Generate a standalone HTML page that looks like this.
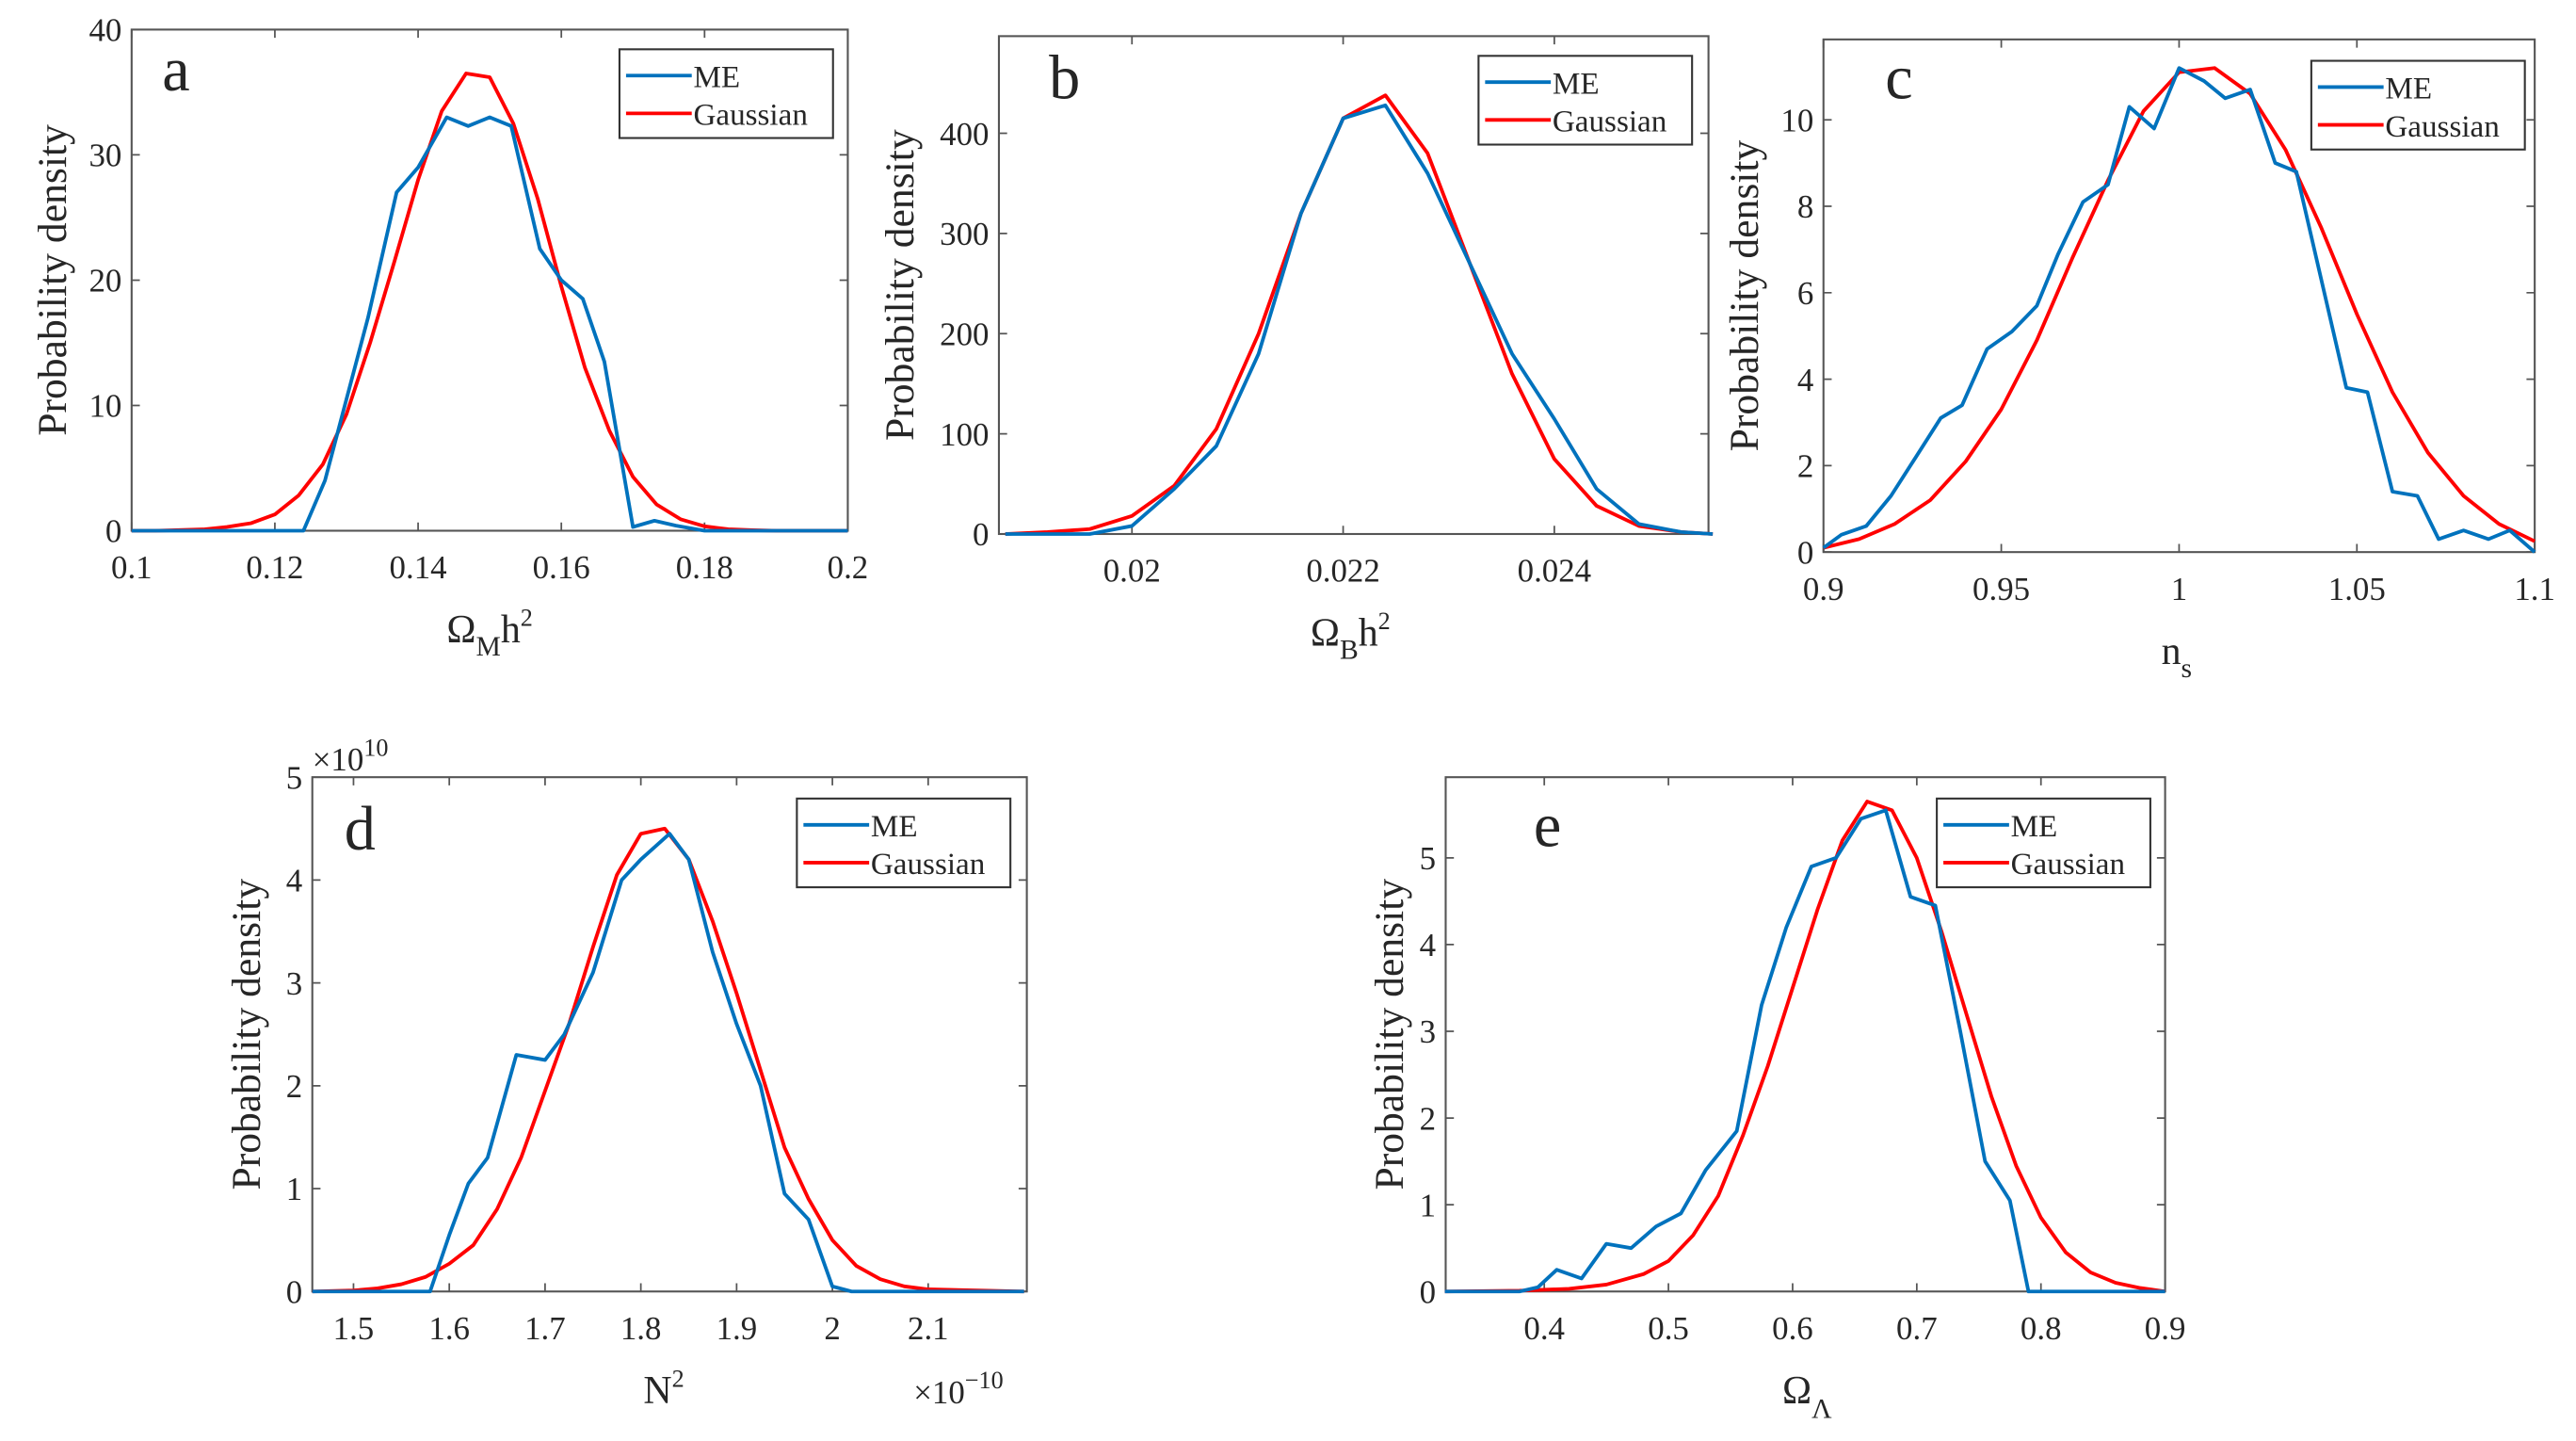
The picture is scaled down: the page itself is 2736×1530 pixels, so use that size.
<!DOCTYPE html>
<html><head><meta charset="utf-8"><style>
html,body{margin:0;padding:0;background:#fff;}
svg{display:block;}
text{font-family:"Liberation Serif",serif;fill:#262626;}
</style></head><body>
<svg id="fig" width="2736" height="1530" viewBox="0 0 1568 877" xmlns="http://www.w3.org/2000/svg"></svg>
<script>
// Panel a
const aMeX=[0.1,0.12,0.124,0.127,0.130,0.133,0.137,0.140,0.144,0.147,0.150,0.153,0.157,0.160,0.163,0.166,0.170,0.173,0.176,0.18,0.2];
const aMeY=[0,0,0,4,10.5,17,27,29,33,32.3,33,32.3,22.5,20,18.5,13.5,0.3,0.8,0.4,0,0];
const aGX=[0.1,0.1033,0.1067,0.110,0.1133,0.1167,0.120,0.1233,0.1267,0.130,0.1333,0.1367,0.140,0.1433,0.1467,0.150,0.1533,0.1567,0.160,0.1633,0.1667,0.170,0.1733,0.1767,0.180,0.1833,0.1867,0.190,0.2];
const aGY=[0,0,0.05,0.1,0.3,0.6,1.3,2.8,5.3,9.3,15,21.5,28,33.5,36.5,36.2,32.5,26.5,19.5,13,8,4.3,2.1,0.9,0.35,0.12,0.04,0,0];
const aXT=[0.1,0.12,0.14,0.16,0.18,0.2];const aXL=["0.1","0.12","0.14","0.16","0.18","0.2"];
const aYT=[0,10,20,30,40];const aYL=["0","10","20","30","40"];
// Panel b
const bMeX=[0.0188,0.0196,0.0200,0.0204,0.0208,0.0212,0.0216,0.0220,0.0224,0.0228,0.0232,0.0236,0.0240,0.0244,0.0248,0.0252,0.0255];
const bMeY=[0,0,8,45,88,180,320,415,428,360,270,180,115,45,10,2,0];
const bGX=[0.0188,0.0192,0.0196,0.0200,0.0204,0.0208,0.0212,0.0216,0.0220,0.0224,0.0228,0.0232,0.0236,0.0240,0.0244,0.0248,0.0252,0.0255];
const bGY=[0,2,5,18,48,105,200,320,415,438,380,270,160,75,28,8,2,0];
const bXT=[0.02,0.022,0.024];const bXL=["0.02","0.022","0.024"];
const bYT=[0,100,200,300,400];const bYL=["0","100","200","300","400"];
// Panel c
const cMeX=[0.9,0.905,0.912,0.919,0.926,0.933,0.939,0.946,0.953,0.960,0.966,0.973,0.980,0.986,0.993,1.000,1.007,1.013,1.020,1.027,1.033,1.040,1.047,1.053,1.060,1.067,1.073,1.080,1.087,1.093,1.1];
const cMeY=[0.1,0.4,0.6,1.3,2.2,3.1,3.4,4.7,5.1,5.7,6.9,8.1,8.5,10.3,9.8,11.2,10.9,10.5,10.7,9.0,8.8,6.3,3.8,3.7,1.4,1.3,0.3,0.5,0.3,0.5,0];
const cGX=[0.9,0.91,0.92,0.93,0.94,0.95,0.96,0.97,0.98,0.99,1.0,1.01,1.02,1.03,1.04,1.05,1.06,1.07,1.08,1.09,1.1];
const cGY=[0.1,0.3,0.65,1.2,2.1,3.3,4.9,6.8,8.6,10.2,11.1,11.2,10.6,9.3,7.5,5.5,3.7,2.3,1.3,0.65,0.25];
const cXT=[0.9,0.95,1,1.05,1.1];const cXL=["0.9","0.95","1","1.05","1.1"];
const cYT=[0,2,4,6,8,10];const cYL=["0","2","4","6","8","10"];
// Panel d
const dMeX=[1.457,1.58,1.60,1.62,1.64,1.67,1.70,1.72,1.75,1.78,1.80,1.83,1.85,1.875,1.90,1.925,1.95,1.975,2.0,2.02,2.2];
const dMeY=[0,0,0.55,1.05,1.3,2.3,2.25,2.5,3.1,4.0,4.2,4.45,4.2,3.3,2.6,2.0,0.95,0.7,0.05,0,0];
const dGX=[1.457,1.5,1.525,1.55,1.575,1.60,1.625,1.65,1.675,1.70,1.725,1.75,1.775,1.80,1.825,1.85,1.875,1.90,1.925,1.95,1.975,2.0,2.025,2.05,2.075,2.1,2.2];
const dGY=[0,0.01,0.03,0.07,0.14,0.27,0.45,0.8,1.3,1.95,2.6,3.35,4.05,4.45,4.5,4.2,3.6,2.9,2.15,1.4,0.9,0.5,0.25,0.12,0.05,0.02,0];
const dXT=[1.5,1.6,1.7,1.8,1.9,2,2.1];const dXL=["1.5","1.6","1.7","1.8","1.9","2","2.1"];
const dYT=[0,1,2,3,4,5];const dYL=["0","1","2","3","4","5"];
// Panel e
const eMeX=[0.32,0.38,0.395,0.41,0.43,0.45,0.47,0.49,0.51,0.53,0.555,0.575,0.595,0.615,0.635,0.655,0.675,0.695,0.715,0.735,0.755,0.775,0.79,0.9];
const eMeY=[0,0,0.05,0.25,0.15,0.55,0.5,0.75,0.9,1.4,1.85,3.3,4.2,4.9,5.0,5.45,5.55,4.55,4.45,3.0,1.5,1.05,0,0];
const eGX=[0.32,0.38,0.42,0.45,0.48,0.50,0.52,0.54,0.56,0.58,0.60,0.62,0.64,0.66,0.68,0.70,0.72,0.74,0.76,0.78,0.80,0.82,0.84,0.86,0.88,0.9];
const eGY=[0,0.01,0.03,0.08,0.2,0.35,0.65,1.1,1.8,2.6,3.5,4.4,5.2,5.65,5.55,5.0,4.15,3.2,2.25,1.45,0.85,0.45,0.22,0.1,0.04,0];
const eXT=[0.4,0.5,0.6,0.7,0.8,0.9];const eXL=["0.4","0.5","0.6","0.7","0.8","0.9"];
const eYT=[0,1,2,3,4,5];const eYL=["0","1","2","3","4","5"];

const NS="http://www.w3.org/2000/svg";
const svg=document.getElementById('fig');
function mk(tag,parent){const e=document.createElementNS(NS,tag);parent.appendChild(e);return e;}

function panel(cfg){
  const g=mk('g',svg);
  
  
  const sx=v=>cfg.L+(v-cfg.x0)/(cfg.x1-cfg.x0)*(cfg.R-cfg.L);
  const sy=v=>cfg.B-(v-cfg.y0)/(cfg.y1-cfg.y0)*(cfg.B-cfg.T);
  const frame=mk('rect',g);
  
  
  frame.setAttribute('x',cfg.L);frame.setAttribute('y',cfg.T);frame.setAttribute('width',cfg.R-cfg.L);frame.setAttribute('height',cfg.B-cfg.T);
  frame.setAttribute('fill','#fff');frame.setAttribute('stroke','#555');frame.setAttribute('stroke-width','1.2');
  cfg.xt.forEach((v,i)=>{
    const x=sx(v);
    const t1=mk('path',g);
    
    
    t1.setAttribute('d',`M${x},${cfg.B}v-5M${x},${cfg.T}v5`);t1.setAttribute('stroke','#555');
    const tx=mk('text',g);
    
    
    tx.setAttribute('x',x);tx.setAttribute('y',cfg.B+29);tx.setAttribute('text-anchor','middle');tx.setAttribute('font-size','20');
    tx.textContent=cfg.xl[i];
  });
  cfg.yt.forEach((v,i)=>{
    const y=sy(v);
    const t1=mk('path',g);
    
    
    t1.setAttribute('d',`M${cfg.L},${y}h5M${cfg.R},${y}h-5`);t1.setAttribute('stroke','#555');
    const tx=mk('text',g);
    
    
    tx.setAttribute('x',cfg.L-6);tx.setAttribute('y',y+7);tx.setAttribute('text-anchor','end');tx.setAttribute('font-size','20');
    tx.textContent=cfg.yl[i];
  });
  [[cfg.gx,cfg.gy,'#ff0000','gaussian-curve'],[cfg.mx,cfg.my,'#0072bd','me-curve']].forEach(s=>{
    const p=mk('polyline',g);
    
    
    p.setAttribute('points',s[0].map((v,i)=>sx(v).toFixed(1)+','+sy(s[1][i]).toFixed(1)).join(' '));
    p.setAttribute('fill','none');p.setAttribute('stroke',s[2]);p.setAttribute('stroke-width','2.2');p.setAttribute('stroke-linejoin','round');
  });
  const lg=mk('g',g);
  
  
  const lx=cfg.lx,ly=cfg.ly;
  const lr=mk('rect',lg);
  
  
  lr.setAttribute('x',lx);lr.setAttribute('y',ly);lr.setAttribute('width',130);lr.setAttribute('height',54);
  lr.setAttribute('fill','#fff');lr.setAttribute('stroke','#333');lr.setAttribute('stroke-width','1.2');
  [['ME','#0072bd',17,'legend-entry-me'],['Gaussian','#ff0000',40,'legend-entry-gaussian']].forEach(e=>{
    const ln=mk('line',lg);
    
    
    ln.setAttribute('x1',lx+4);ln.setAttribute('x2',lx+44);ln.setAttribute('y1',ly+e[2]-1);ln.setAttribute('y2',ly+e[2]-1);
    ln.setAttribute('stroke',e[1]);ln.setAttribute('stroke-width','2.2');
    const t=mk('text',lg);
    
    
    t.setAttribute('x',lx+45);t.setAttribute('y',ly+e[2]+6);t.setAttribute('font-size','19');t.setAttribute('fill','#000');
    t.textContent=e[0];
  });
  const letter=mk('text',g);
  
  
  letter.setAttribute('x',cfg.letX);letter.setAttribute('y',cfg.letY);letter.setAttribute('font-size','38');letter.setAttribute('fill','#000');letter.setAttribute('text-anchor','middle');
  letter.textContent=cfg.id;
  const yl=mk('text',g);
  
  
  yl.setAttribute('transform',`translate(${cfg.ylx},${(cfg.T+cfg.B)/2}) rotate(-90)`);
  yl.setAttribute('text-anchor','middle');yl.setAttribute('font-size','25');
  yl.textContent='Probability density';
  const xl=mk('text',g);
  
  
  xl.setAttribute('x',cfg.xlx);xl.setAttribute('y',cfg.B+68);xl.setAttribute('text-anchor','middle');xl.setAttribute('font-size','24');
  xl.innerHTML=cfg.xlab;
  return g;
}

panel({id:'a',L:80,R:516,T:18,B:323,x0:0.1,x1:0.2,y0:0,y1:40,mx:aMeX,my:aMeY,gx:aGX,gy:aGY,xt:aXT,xl:aXL,yt:aYT,yl:aYL,lx:377,ly:30,letX:107,letY:55,ylx:40,xlx:298,
  xlab:'Ω<tspan font-size="17" dy="8">M</tspan><tspan dy="-8">h</tspan><tspan font-size="15" dy="-10">2</tspan>'});
panel({id:'b',L:608,R:1040,T:22,B:325,x0:0.01874,x1:0.02546,y0:0,y1:497,mx:bMeX,my:bMeY,gx:bGX,gy:bGY,xt:bXT,xl:bXL,yt:bYT,yl:bYL,lx:900,ly:34,letX:648,letY:60,ylx:556,xlx:822,
  xlab:'Ω<tspan font-size="17" dy="8">B</tspan><tspan dy="-8">h</tspan><tspan font-size="15" dy="-10">2</tspan>'});
panel({id:'c',L:1110,R:1543,T:24,B:336,x0:0.9,x1:1.1,y0:0,y1:11.86,mx:cMeX,my:cMeY,gx:cGX,gy:cGY,xt:cXT,xl:cXL,yt:cYT,yl:cYL,lx:1407,ly:37,letX:1156,letY:60,ylx:1070,xlx:1325,
  xlab:'n<tspan font-size="17" dy="8">s</tspan>'});
panel({id:'d',L:190,R:625,T:473,B:786,x0:1.457,x1:2.203,y0:0,y1:5,mx:dMeX,my:dMeY,gx:dGX,gy:dGY,xt:dXT,xl:dXL,yt:dYT,yl:dYL,lx:485,ly:486,letX:219,letY:517,ylx:158,xlx:404,
  xlab:'N<tspan font-size="15" dy="-10">2</tspan>'});
panel({id:'e',L:880,R:1318,T:473,B:786,x0:0.3206,x1:0.9,y0:0,y1:5.93,mx:eMeX,my:eMeY,gx:eGX,gy:eGY,xt:eXT,xl:eXL,yt:eYT,yl:eYL,lx:1179,ly:486,letX:942,letY:515,ylx:854,xlx:1100,
  xlab:'Ω<tspan font-size="17" dy="9">Λ</tspan>'});

const m1=mk('text',svg);


m1.setAttribute('x',190);m1.setAttribute('y',469);m1.setAttribute('font-size','20');
m1.innerHTML='×10<tspan font-size="15" dy="-9">10</tspan>';
const m2=mk('text',svg);


m2.setAttribute('x',556);m2.setAttribute('y',854);m2.setAttribute('font-size','20');
m2.innerHTML='×10<tspan font-size="15" dy="-9">−10</tspan>';
</script>
</body></html>
